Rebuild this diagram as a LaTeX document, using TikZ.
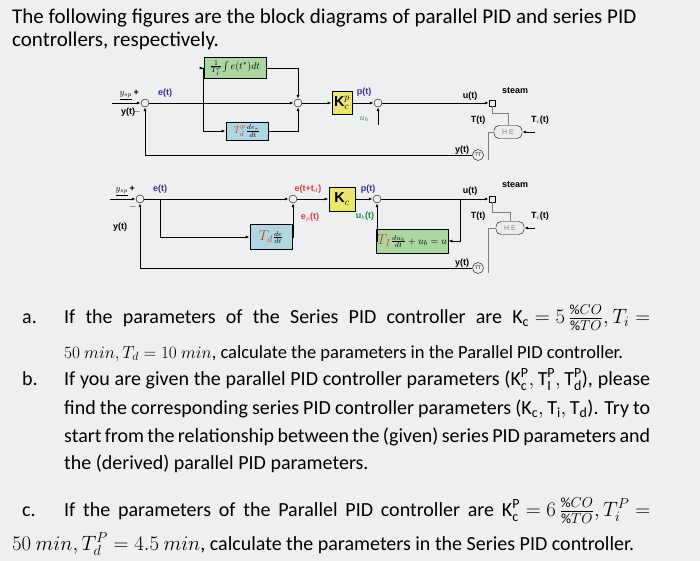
\documentclass[tikz,border=0pt]{standalone}
\usepackage{fontspec}
\setmainfont{Carlito}
\setsansfont{Liberation Sans}
\usetikzlibrary{arrows.meta}
\definecolor{bg}{RGB}{238,239,241}
\definecolor{gbox}{RGB}{170,215,160}
\definecolor{bbox}{RGB}{175,215,225}
\definecolor{ybox}{RGB}{235,230,110}
\definecolor{lred}{RGB}{215,60,60}
\definecolor{lblue}{RGB}{50,50,140}
\definecolor{lgreen}{RGB}{30,130,60}
\newcommand{\jline}[1]{\makebox[586pt][s]{#1}}
\begin{document}
\begin{tikzpicture}[x=1pt,y=-1pt,
  blk/.style={draw,line width=0.8pt,inner sep=1pt,font=\sffamily\bfseries\fontsize{10}{11}\selectfont},
  sumc/.style={draw,circle,inner sep=0pt,minimum size=8pt},
  sig/.style={line width=0.8pt,-{Latex[length=4pt]}},
  ln/.style={line width=0.8pt},
  lab/.style={font=\sffamily\bfseries\fontsize{9}{10}\selectfont,inner sep=1pt},
  ttl/.style={anchor=base west,inner sep=0pt,font=\fontsize{21}{24}\selectfont},
  txt/.style={anchor=base west,inner sep=0pt,font=\fontsize{20}{23}\selectfont}]
\fill[bg] (0,0) rectangle (700,561);
\useasboundingbox (0,0) rectangle (700,561);
\node[ttl] (t1) at (12,24) {The following figures are the block diagrams of parallel PID and series PID};
\node[ttl] (t2) at (12,47) {controllers, respectively.};
% ---------- diagram 1
\node[sumc] (s1) at (145,103) {};
\node[lab,anchor=south east] (ysp1) at (140,101) {\underline{$y_{sp}$}\,+};
\coordinate (in1) at (112,103);
\draw[sig] (in1) -- (s1);
\node[lab,lblue] (e1) at (165,93) {e(t)};
\node[lab] (m1) at (137,112) {$-$};
\node[sumc] (s2) at (298,103) {};
\node[blk,fill=gbox,minimum width=62pt,minimum height=21pt] (bi) at (235,68) {$\frac{1}{T_I^p}\!\int e(t^*)dt$};
\node[blk,fill=bbox,minimum width=42pt,minimum height=18pt] (bd) at (247,131) {\textcolor{lred}{$T_d^p$}$\frac{de_r}{dt}$};
\coordinate (sp1) at (203,103);
\draw[sig] (s1) -- (s2);
\draw[sig] (sp1) |- (bi.west);
\draw[sig] (sp1) |- (bd.west);
\draw[sig] (bi.east) -| (s2.north);
\draw[sig] (bd.east) -| (s2.south);
\node[blk,fill=ybox,minimum width=20pt,minimum height=23pt,font=\sffamily\bfseries\Large] (k1) at (342,103) {K$_c^p$};
\draw[sig] (s2) -- (k1);
\node[sumc] (s3) at (378,103) {};
\draw[sig] (k1) -- (s3);
\node[lab,lblue] (p1) at (364,92) {p(t)};
\node[lab,lgreen] (ub1) at (364,119) {$u_b$};
\coordinate (ubin1) at (378,125);
\draw[sig] (ubin1) -- (s3);
\node[draw,minimum size=6pt,inner sep=0pt] (v1) at (492,103) {};
\draw[sig] (s3) -- (v1);
\node[lab] (u1) at (470,96) {u(t)};
\node[lab] (st1) at (515,91) {steam};
\node[draw,rounded corners=5pt,fill=gray!15,minimum width=28pt,minimum height=13pt,font=\sffamily\scriptsize,text=gray] (he1) at (508,132) {H E};
\draw[ln,gray] (v1) |- (508,113) -- (he1.north);
\node[lab] (T1) at (478,120) {T(t)};
\node[lab] (Ti1) at (540,120) {T$_i$(t)};
\draw[sig] (535,132) -- (he1.east);
\node[draw,circle,inner sep=0pt,minimum size=11pt,font=\sffamily\tiny] (tt1) at (478,155) {TT};
\node[lab] (y1b) at (462,150) {y(t)};
\draw[ln,gray] (he1.west) -- (488,132) -- (488,160);
\node[lab] (y1) at (128,112) {y(t)};
\draw[sig] (tt1.west) -| (s1.south);
% ---------- diagram 2
\node[sumc] (r1) at (140,199) {};
\node[lab,anchor=south east] (ysp2) at (136,197) {\underline{$y_{sp}$}\,+};
\coordinate (in2) at (110,199);
\draw[sig] (in2) -- (r1);
\node[lab,lblue] (e2) at (160,189) {e(t)};
\node[lab] (m2) at (133,207) {$-$};
\node[lab] (y2) at (120,227) {y(t)};
\node[sumc] (r2) at (293,199) {};
\draw[sig] (r1) -- (r2);
\node[blk,fill=bbox,minimum width=42pt,minimum height=25pt] (bd2) at (271,237) {\textcolor{lred}{\Large$T_d$}$\frac{de}{dt}$};
\coordinate (sp2) at (160,199);
\draw[sig] (sp2) |- (bd2.west);
\draw[sig] (bd2.east) -| (r2.south);
\node[lab,lred] (etd) at (308,189) {e(t+t$_d$)};
\node[lab,lred] (ep) at (310,217) {e$_p$(t)};
\node[blk,fill=ybox,minimum width=26pt,minimum height=24pt,font=\sffamily\bfseries\Large] (k2) at (342,199) {K$_c$};
\draw[sig] (r2) -- (k2);
\node[sumc] (r3) at (377,199) {};
\draw[sig] (k2) -- (r3);
\node[lab,lblue] (p2) at (368,189) {p(t)};
\node[lab,lgreen] (ub2) at (365,216) {u$_b$(t)};
\node[draw,minimum size=6pt,inner sep=0pt] (v2) at (492,199) {};
\draw[sig] (r3) -- (v2);
\node[lab] (u2) at (470,191) {u(t)};
\node[lab] (st2) at (515,185) {steam};
\node[blk,fill=gbox,minimum width=72pt,minimum height=24pt] (bi2) at (412,241) {\textcolor{lred}{\Large$T_I$}$\frac{du_b}{dt}+u_b=u$};
\coordinate (sp3) at (460,199);
\draw[sig] (sp3) |- (bi2.east);
\draw[sig] (bi2.west) -| (r3.south);
\node[draw,rounded corners=5pt,fill=gray!15,minimum width=28pt,minimum height=13pt,font=\sffamily\scriptsize,text=gray] (he2) at (510,228) {H E};
\draw[ln,gray] (v2) |- (510,212) -- (he2.north);
\node[lab] (T2) at (478,216) {T(t)};
\node[lab] (Ti2) at (540,216) {T$_i$(t)};
\draw[sig] (535,228) -- (he2.east);
\node[draw,circle,inner sep=0pt,minimum size=11pt,font=\sffamily\tiny] (tt2) at (478,268) {TT};
\node[lab] (y2b) at (462,263) {y(t)};
\draw[ln,gray] (he2.west) -- (488,228) -- (488,273);
\draw[sig] (tt2.west) -| (r1.south);
% ---------- questions
\node[txt] (qa) at (22,323) {a.};
\node[txt] (a1) at (64,323) {\jline{If the parameters of the Series PID controller are \mbox{$\mathrm{K_c}=5\,\frac{\%CO}{\%TO},T_i=$}}};
\node[txt,font=\fontsize{18.5}{22}\selectfont] (a2) at (64,358) {\mbox{$50\ min, T_d=10\ min$}, calculate the parameters in the Parallel PID controller.};
\node[txt] (qb) at (22,385) {b.};
\node[txt] (b1) at (64,385) {\jline{If you are given the parallel PID controller parameters (\mbox{$\mathrm{K_c^P,T_I^P,T_d^P}$}), please}};
\node[txt] (b2) at (64,414) {\jline{find the corresponding series PID controller parameters (\mbox{$\mathrm{K_c,T_i,T_d}$}). Try to}};
\node[txt] (b3) at (64,442) {\jline{start from the relationship between the (given) series PID parameters and}};
\node[txt] (b4) at (64,469) {the (derived) parallel PID parameters.};
\node[txt] (qc) at (22,516) {c.};
\node[txt] (c1) at (64,516) {\jline{If the parameters of the Parallel PID controller are \mbox{$\mathrm{K_c^P}=6\,\frac{\%CO}{\%TO},T_i^P=$}}};
\node[txt] (c2) at (12,550) {\mbox{$50\ min, T_d^P=4.5\ min$}, calculate the parameters in the Series PID controller.};
\end{tikzpicture}
\end{document}
